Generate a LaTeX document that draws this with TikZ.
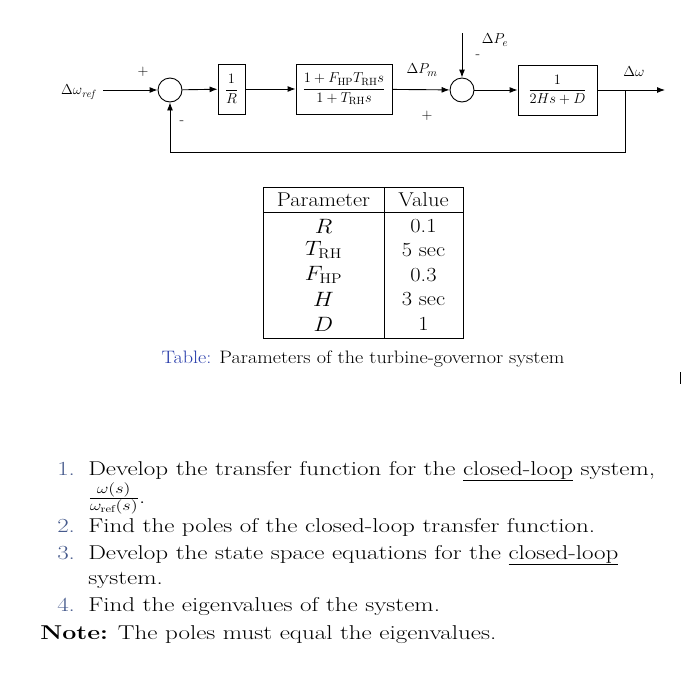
\documentclass[tikz,border=0pt]{standalone}
\usepackage{fontspec}
\newfontfamily\tms{Liberation Serif}
\usetikzlibrary{arrows.meta}
\definecolor{capblue}{RGB}{40,60,170}
\definecolor{numc}{RGB}{70,90,140}
\begin{document}
\begin{tikzpicture}[x=1pt,y=-1pt,
  blk/.style={draw,line width=0.9pt,minimum height=50pt,inner sep=1pt,font=\fontsize{15}{16}\selectfont},
  sumc/.style={draw,circle,line width=0.9pt,minimum size=24pt,inner sep=0pt},
  sig/.style={-{Latex[length=8pt,width=6pt]},line width=0.9pt},
  lbl/.style={font=\fontsize{15}{16}\selectfont}]
\useasboundingbox (0,0) rectangle (700,675);
% diagram
\node[lbl] (wref) at (78,92) {$\Delta\omega_{\mathit{ref}}$};
\node[sumc] (s1) at (170,90) {};
\node[blk,minimum width=27pt] (b1) at (231.5,89) {$\displaystyle\frac{1}{R}$};
\node[blk,minimum width=96pt] (b2) at (344,89) {$\displaystyle\frac{1+F_{\mathrm{HP}}T_{\mathrm{RH}}s}{1+T_{\mathrm{RH}}s}$};
\node[sumc] (s2) at (462,90) {};
\node[blk,minimum width=79pt] (b3) at (557.5,90) {$\displaystyle\frac{1}{2Hs+D}$};
\coordinate (out) at (665,90);
\coordinate (pe) at (462,33);
\coordinate (tap) at (625,90);
\coordinate (fb) at (625,152);
\coordinate (fb2) at (170,152);
\draw[sig] (103,90) coordinate (in) -- (s1);
\draw[sig] (s1) -- (b1);
\draw[sig] (b1) -- (b2);
\draw[sig] (b2) -- (s2);
\draw[sig] (s2) -- (b3);
\draw[sig] (b3) -- (out);
\draw[sig] (pe) -- (s2);
\draw[sig] (tap) -- (fb) -- (fb2) -- (s1);
\node[lbl] at (143,72) {+};
\node[lbl] at (182,123) {-};
\node[lbl] at (422,70) {$\Delta P_{m}$};
\node[lbl] at (427,116) {+};
\node[lbl] at (495,40) {$\Delta P_{e}$};
\node[lbl] at (478,57) {-};
\node[lbl] at (634,72) {$\Delta\omega$};
% table
\draw[line width=0.8pt] (263,187) rectangle (463,338);
\draw[line width=0.8pt] (263,212) -- (463,212);
\draw[line width=0.8pt] (384,187) -- (384,338);
\begin{scope}[every node/.style={font=\fontsize{20}{22}\selectfont,xscale=1.12,transform shape}]
\node at (323.5,200) {Parameter};
\node at (423.5,200) {Value};
\node at (323.5,226) {$R$};
\node at (423.5,226) {0.1};
\node at (323.5,250) {$T_{\mathrm{RH}}$};
\node at (423.5,250) {5 sec};
\node at (323.5,275) {$F_{\mathrm{HP}}$};
\node at (423.5,275) {0.3};
\node at (323.5,299) {$H$};
\node at (423.5,299) {3 sec};
\node at (323.5,324) {$D$};
\node at (423.5,324) {1};
\node[font=\fontsize{18}{20}\selectfont] at (363,359) {\textcolor{capblue}{Table:} Parameters of the turbine-governor system};
\end{scope}
\draw[line width=1pt] (680,372) -- (680,384);
% list
\begin{scope}[every node/.style={font=\fontsize{20}{22}\selectfont,anchor=base west,inner sep=0pt,xscale=1.25,transform shape}]
\node at (57,475) {\textcolor{numc}{1.}};
\node at (88,475) {Develop the transfer function for the \underline{closed-loop} system,};
\node at (88,503) {$\frac{\omega(s)}{\omega_{\mathrm{ref}}(s)}$.};
\node at (57,532) {\textcolor{numc}{2.}};
\node at (88,532) {Find the poles of the closed-loop transfer function.};
\node at (57,559) {\textcolor{numc}{3.}};
\node at (88,559) {Develop the state space equations for the \underline{closed-loop}};
\node at (88,584) {system.};
\node at (57,611) {\textcolor{numc}{4.}};
\node at (88,611) {Find the eigenvalues of the system.};
\node at (40,639) {\textbf{Note:} The poles must equal the eigenvalues.};
\end{scope}
\end{tikzpicture}
\end{document}
